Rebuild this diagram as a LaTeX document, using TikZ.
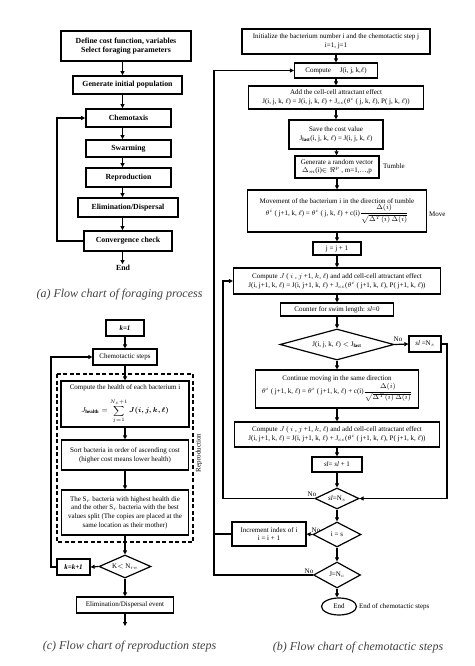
\documentclass[tikz,border=0pt]{standalone}
\usepackage{fontspec}
\setmainfont{Liberation Serif}
\usepackage{amsmath,bm}
\usetikzlibrary{shapes.geometric,arrows.meta}
\newcommand\myfa{\fontsize{7.8}{9.6}\selectfont\bfseries}
\newcommand\myfb{\fontsize{7}{8.6}\selectfont}
\newcommand\myfcap{\fontsize{12}{14}\selectfont\itshape}
\begin{document}
\begin{tikzpicture}[x=1pt,y=-1pt,
  box/.style={draw, line width=1.2pt, inner sep=1pt, align=center, font=\myfb},
  abox/.style={draw, line width=1.7pt, inner sep=1pt, align=center, font=\myfa},
  dia/.style={draw, diamond, line width=1.2pt, inner sep=0pt, font=\myfb},
  arr/.style={line width=1.2pt, -{Triangle[length=4pt,width=4pt]}},
  ln/.style={line width=1.2pt},
  lbl/.style={font=\myfb, inner sep=0pt},
  captxt/.style={font=\myfcap, text=black!75, inner sep=0pt}]
\useasboundingbox (0,0) rectangle (474,666);

% ---------- (a) ----------
\coordinate (ca) at (122.5,0);
\coordinate (la) at (57,0);
\node[abox, minimum width=130pt, minimum height=30pt] (a1) at (126,46) {Define cost function, variables\\Select foraging parameters};
\node[abox, minimum width=109pt, minimum height=18pt] (a2) at (127.5,85) {Generate initial population};
\node[abox, minimum width=85pt, minimum height=18pt] (a3) at (128.5,118) {Chemotaxis};
\node[abox, minimum width=85pt, minimum height=17pt] (a4) at (128.5,148.5) {Swarming};
\node[abox, minimum width=85pt, minimum height=19pt] (a5) at (128.5,177.5) {Reproduction};
\node[abox, minimum width=100pt, minimum height=19pt] (a6) at (128,207.5) {Elimination/Dispersal};
\node[abox, minimum width=88pt, minimum height=20pt] (a7) at (128,241) {Convergence check};
\node[font=\myfa, inner sep=1pt] (a8) at (123,268) {End};
\foreach \p/\q in {a1/a2,a2/a3,a3/a4,a4/a5,a5/a6,a6/a7,a7/a8}
  \draw[arr] (\p.south -| ca) -- (\q.north -| ca);
\draw[arr] (a7.west) -- (a7.west -| la) |- (a3.west);
\node[captxt] (capa) at (119.5,295) {(a) Flow chart of foraging process};

% ---------- (b) ----------
\coordinate (lo) at (214,0);
\coordinate (li) at (223,0);
\coordinate (lr) at (447,0);
\node[box, minimum width=188pt, minimum height=25pt] (b1) at (336,41.5) {Initialize the bacterium number i and the chemotactic step j\\ i=1, j=1};
\node[box, minimum width=83pt, minimum height=15pt] (b2) at (336,70.5) {Compute \quad J(i, j, k,$\ell$)};
\node[box, minimum width=175pt, minimum height=23pt] (b3) at (336,97.5) {Add the cell-cell attractant effect\\ J(i, j, k, $\ell$) = J(i, j, k, $\ell$) + J$_{cc}$($\theta^i$ ( j, k, $\ell$), P( j, k, $\ell$))};
\node[box, minimum width=94pt, minimum height=29pt] (b4) at (336,134.5) {Save the cost value\\ J$_{\mathbf{last}}$(i, j, k, $\ell$) = J(i, j, k, $\ell$)};
\node[box, minimum width=84pt, minimum height=22pt] (b5) at (337,167) {Generate a random vector\\ $\Delta_m$(i)$\in\Re^p$ , m=1,\ldots,p};
\node[lbl, anchor=west] (tum) at (383,166) {Tumble};
\node[box, minimum width=179pt, minimum height=42pt] (b6) at (337,211) {Movement of the bacterium i in the direction of tumble\\ $\theta^i$ ( j+1, k, $\ell$) = $\theta^i$ ( j, k, $\ell$) + c(i)$\dfrac{\Delta(i)}{\sqrt{\Delta^T(i)\,\Delta(i)}}$};
\node[lbl, anchor=west] (mov) at (429,214) {Move};
\node[box, minimum width=48pt, minimum height=13pt] (b7) at (337,248.5) {j = j + 1};
\node[box, minimum width=207pt, minimum height=26pt] (b8) at (337,281) {Compute $J$ ( $i$ , $j$ +1, $k$, $\ell$) and add cell-cell attractant effect\\ J(i, j+1, k, $\ell$) = J(i, j+1, k, $\ell$) + J$_{cc}$($\theta^i$ ( j+1, k, $\ell$), P( j+1, k, $\ell$))};
\node[box, minimum width=113pt, minimum height=13pt] (b9) at (337,309.5) {Counter for swim length: \textit{sl}=0};
\node[dia, minimum width=114pt, minimum height=31pt, shape aspect=3.6] (b10) at (337,344.5) {J(i, j, k, $\ell$) $<$ J$_{\mathbf{last}}$};
\node[box, minimum width=32pt, minimum height=16pt] (b11) at (425,344) {\textit{sl} =N$_s$};
\node[lbl, anchor=south] (no1) at (398,342) {No};
\node[box, minimum width=163pt, minimum height=38pt] (b12) at (337,389) {Continue moving in the same direction\\ $\theta^i$ ( j+1, k, $\ell$) = $\theta^i$ ( j+1, k, $\ell$) + c(i)$\dfrac{\Delta(i)}{\sqrt{\Delta^T(i)\,\Delta(i)}}$};
\node[box, minimum width=205pt, minimum height=25pt] (b13) at (337,434.5) {Compute $J$ ( $i$ , $j$ +1, $k$, $\ell$) and add cell-cell attractant effect\\ J(i, j+1, k, $\ell$) = J(i, j+1, k, $\ell$) + J$_{cc}$($\theta^i$ ( j+1, k, $\ell$), P( j+1, k, $\ell$))};
\node[box, minimum width=50pt, minimum height=15pt] (b14) at (337,464.5) {\textit{sl}= \textit{sl} + 1};
\node[dia, minimum width=44pt, minimum height=21pt, shape aspect=2] (b15) at (337,498.5) {\textit{sl}=N$_s$};
\node[lbl, anchor=south] (no2) at (312,497) {No};
\node[dia, minimum width=48pt, minimum height=25pt, shape aspect=1.9] (b16) at (337,534.5) {i = s};
\node[lbl, anchor=south] (no3) at (316,533) {No};
\node[box, minimum width=74pt, minimum height=24pt] (b17) at (269,534) {Increment index of i\\ i = i + 1};
\node[dia, minimum width=47pt, minimum height=26pt, shape aspect=1.8] (b18) at (337,575) {J=N$_c$};
\node[lbl, anchor=south] (no4) at (309,574) {No};
\node[draw, ellipse, line width=1.2pt, minimum width=35pt, minimum height=17pt, inner sep=0pt, font=\myfb] (b19) at (339,606.5) {End};
\node[lbl, anchor=west] (eoc) at (359,607) {End of chemotactic steps};
\foreach \p/\q in {b1/b2,b2/b3,b3/b4,b4/b5,b5/b6,b6/b7,b7/b8,b8/b9,b9/b10,b10/b12,b12/b13,b13/b14,b14/b15,b15/b16,b16/b18}
  \draw[arr] (\p) -- (\q);
\draw[arr] (b18.south) -- (b19.north -| b18.south);
\draw[arr] (b18.west) -- (b18.west -| lo) |- (b2.west);
\draw[arr] (b16.west) -- (b17.east);
\draw[ln] (b17.west) -- (b17.west -| lo);
\draw[arr] (b15.west) -- (b15.west -| li) |- (b8.west);
\draw[arr] (b10.east) -- (b11.west);
\draw[arr] (b11.east) -- (b11.east -| lr) |- (b15.east);
\node[captxt] (capb) at (358,648) {(b) Flow chart of chemotactic steps};

% ---------- (c) ----------
\coordinate (lc) at (51,0);
\node[box, minimum width=38pt, minimum height=16pt] (c1) at (125,328) {\textbf{\textit{k=1}}};
\node[box, minimum width=64pt, minimum height=16pt] (c2) at (125,357) {Chemotactic steps};
\draw[line width=1.4pt, dash pattern=on 4pt off 2.5pt] (57,374) rectangle (193,542);
\node[box, minimum width=128pt, minimum height=46pt] (c3) at (125,404) {Compute the health of each bacterium i\\[7pt] $J_{\mathbf{health}} = \displaystyle\sum_{j=1}^{N_c+1} \bm{J(i,j,k,\ell)}$};
\node[box, minimum width=127pt, minimum height=30pt] (c4) at (125,455) {Sort bacteria in order of ascending cost\\ (higher cost means lower health)};
\node[box, minimum width=127pt, minimum height=45pt] (c5) at (125,512.5) {The S$_r$ bacteria with highest health die\\ and the other S$_r$ bacteria with the best\\ values split (The copies are placed at the\\ same location as their mother)};
\node[dia, minimum width=52pt, minimum height=23pt, shape aspect=2.2] (c6) at (125,566.5) {K$<$ N$_{re}$};
\node[box, minimum width=33pt, minimum height=16pt] (c7) at (73.5,567) {\textbf{\textit{k=k+1}}};
\node[box, minimum width=97pt, minimum height=16pt] (c8) at (125,605) {Elimination/Dispersal event};
\coordinate (c9) at (125,626);
\node[lbl, rotate=90] (rep) at (199,453) {Reproduction};
\foreach \p/\q in {c1/c2,c2/c3,c3/c4,c4/c5,c5/c6,c6/c8}
  \draw[arr] (\p) -- (\q);
\draw[arr] (c8.south) -- (c9);
\draw[arr] (c6.west) -- (c7.east);
\draw[arr] (c7.west) -- (c7.west -| lc) |- (c2.west);
\node[captxt] (capc) at (129.5,647) {(c) Flow chart of reproduction steps};
\end{tikzpicture}
\end{document}
